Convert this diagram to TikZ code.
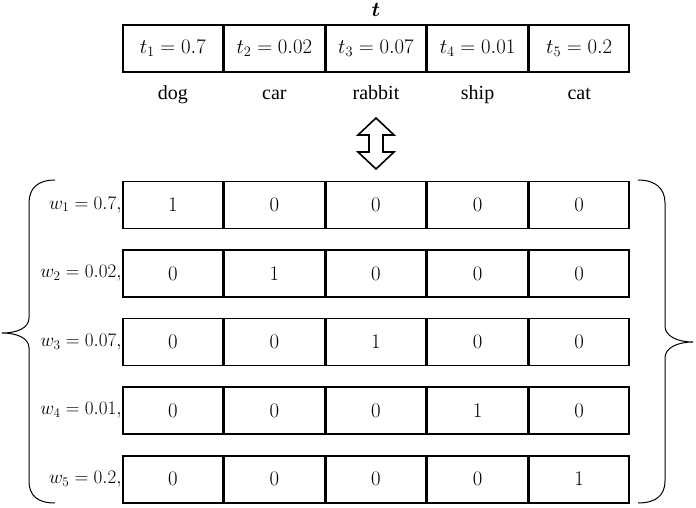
\documentclass[tikz,border=0pt]{standalone}
\usepackage{amsmath}
\usepackage{amssymb}
\usepackage{graphicx}
\usepackage{fontspec}
\setmainfont{Liberation Serif}
\usepackage{tikz}
\usetikzlibrary{positioning,matrix}

\begin{document}
\begin{tikzpicture}[
	x=1pt, y=-1pt,
	font=\fontsize{20}{24}\selectfont,
	% ô của bảng
	cell/.style={draw, line width=1.6pt, minimum width=100pt, minimum height=47pt,
		outer sep=0pt, inner sep=0pt, anchor=center, font=\fontsize{22.5}{26}\selectfont},
	word/.style={inner sep=0pt},
	brace_line/.style={black, line width=1pt},
	swap_arrow/.style={draw, black, line width=1.6pt, line join=miter}
	]
	\useasboundingbox (0,0) rectangle (696,508);
	
	% --- VECTOR t ---
	\matrix (tvec) at (376,48.5) [
	matrix of math nodes,
	nodes={cell},
	column sep=0pt,
	ampersand replacement=\&
	] {
		t_1 = 0.7 \& t_2 = 0.02 \& t_3 = 0.07 \& t_4 = 0.01 \& t_5 = 0.2 \\
	};
	\node[above=1pt of tvec, font=\fontsize{22}{26}\selectfont] (tname) {$\boldsymbol{t}$};
	
	% --- NHÃN LỚP ---
	\foreach \j/\s in {1/dog,2/car,3/rabbit,4/ship,5/cat}
		\node[word, below=28pt of tvec-1-\j.south, anchor=base] (word\j) {\s};
	
	% --- MŨI TÊN HAI CHIỀU ---
	\draw[swap_arrow] (376,118) -- (394,135) -- (383,135) -- (383,152) -- (394,152)
		-- (376,169) -- (358,152) -- (369,152) -- (369,135) -- (358,135) -- cycle;
	
	% --- BẢNG ONE-HOT ---
	\matrix (w) at (376,342) [
	matrix of math nodes,
	nodes={cell},
	column sep=0pt,
	row sep=20pt,
	ampersand replacement=\&
	] {
		1 \& 0 \& 0 \& 0 \& 0 \\
		0 \& 1 \& 0 \& 0 \& 0 \\
		0 \& 0 \& 1 \& 0 \& 0 \\
		0 \& 0 \& 0 \& 1 \& 0 \\
		0 \& 0 \& 0 \& 0 \& 1 \\
	};
	
	% --- TRỌNG SỐ ---
	\foreach \i/\v in {1/0.7,2/0.02,3/0.07,4/0.01,5/0.2}
		\node[left=0pt of w-\i-1, inner sep=1pt, font=\fontsize{22.5}{26}\selectfont] (wlab\i) {\scalebox{0.92}{$w_{\i} = \v,$}};
	
	% --- NGOẶC NHỌN ---
	\draw[brace_line] (55,180) .. controls (38,180) and (29,188) .. (29,203)
		-- (29,318) .. controls (29,328) and (17,333) .. (2,333)
		.. controls (17,333) and (29,338) .. (29,348)
		-- (29,481) .. controls (29,496) and (38,503) .. (55,503);
	\draw[brace_line] (638,180) .. controls (655,180) and (665,188) .. (665,203)
		-- (665,326) .. controls (665,336) and (677,342) .. (693,342)
		.. controls (677,342) and (665,348) .. (665,358)
		-- (665,481) .. controls (665,496) and (655,503) .. (638,503);
	
\end{tikzpicture}
\end{document}
